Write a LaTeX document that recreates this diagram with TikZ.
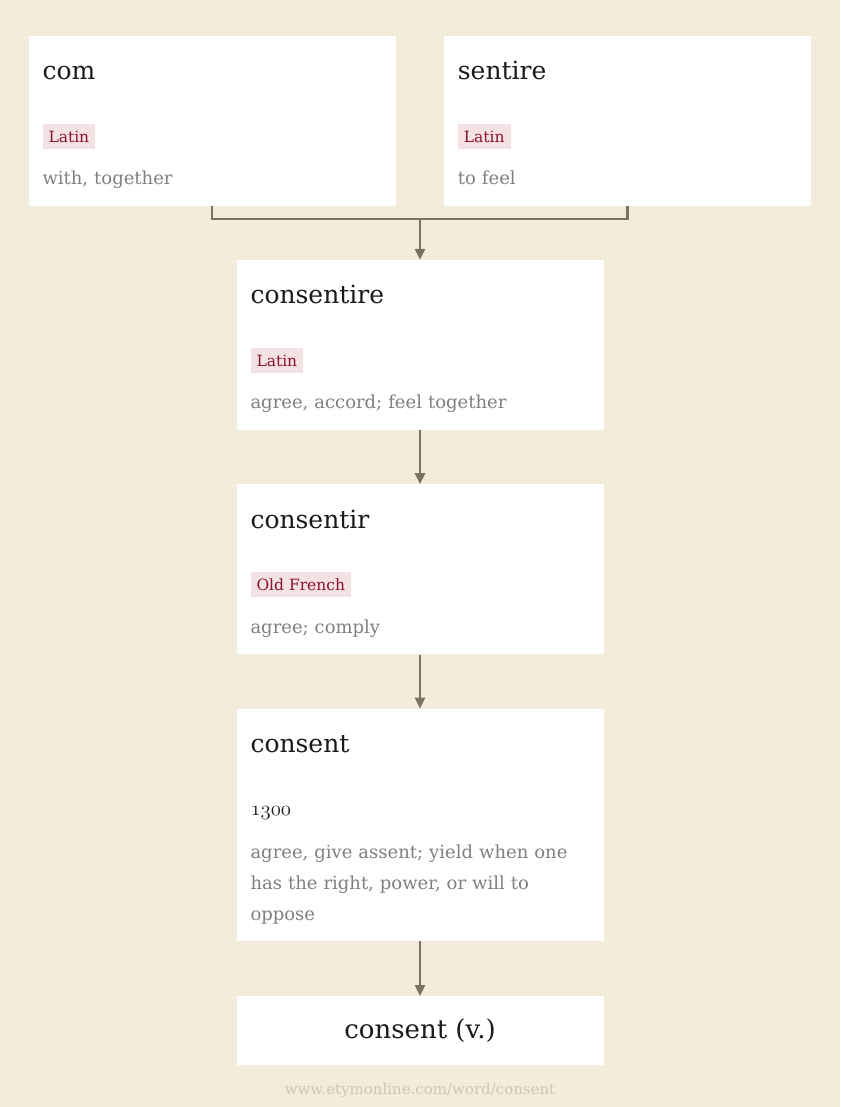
\documentclass[tikz,border=0pt]{standalone}
\usepackage{fontspec}
\setmainfont{DejaVu Serif}
\usepackage{xcolor}
\usetikzlibrary{positioning, arrows.meta}

\definecolor{paper}{HTML}{F3ECDA}
\definecolor{ink}{HTML}{1A1A1A}
\definecolor{glossgray}{HTML}{808080}
\definecolor{tagbg}{HTML}{F3E1E4}
\definecolor{tagred}{HTML}{8A1236}
\definecolor{linkgray}{HTML}{7A7363}
\definecolor{footgray}{HTML}{CFC7B6}

\newcommand{\osnum}[1]{{\usefont{OML}{cmm}{m}{it}#1}}

\begin{document}
\begin{tikzpicture}[x=1pt, y=-1pt, node distance=54pt and 48pt,
    card/.style={rectangle, fill=white, minimum width=367pt, minimum height=170pt, inner sep=0pt},
    word/.style={anchor=base west, inner sep=0pt, text=ink, font=\fontsize{25}{29}\selectfont},
    lang/.style={anchor=north west, fill=tagbg, text=tagred, inner xsep=6pt, inner ysep=0pt, minimum height=25pt, font=\fontsize{15.5}{18}\selectfont},
    gloss/.style={anchor=base west, inner sep=0pt, text=glossgray, text width=340pt, align=left, font=\fontsize{18}{31}\selectfont},
    link/.style={draw=linkgray, line width=2.6pt},
    >={Triangle[width=10pt,length=11pt]}]
    \useasboundingbox (0,0) rectangle (840,1107);
    \fill[paper] (0,0) rectangle (840,1107);

    % the cards
    \node[card] (com) at (212,121) {};
    \node[card, right=of com] (sentire) {};
    \node[card] (consentire) at (420,345) {};
    \node[card, below=of consentire] (consentir) {};
    \node[card, minimum height=232pt, below=of consentir] (consent) {};
    \node[card, minimum height=69pt, below=55pt of consent, font=\fontsize{26}{30}\selectfont, text=ink] (final) {consent (v.)};

    % texts inside the cards
    \node[word] (com-w) at ([shift={(14,44)}]com.north west) {com};
    \node[lang] (com-l) at ([shift={(14,88)}]com.north west) {Latin};
    \node[gloss] (com-g) at ([shift={(14,149)}]com.north west) {with, together};

    \node[word] (sentire-w) at ([shift={(14,44)}]sentire.north west) {sentire};
    \node[lang] (sentire-l) at ([shift={(14,88)}]sentire.north west) {Latin};
    \node[gloss] (sentire-g) at ([shift={(14,149)}]sentire.north west) {to feel};

    \node[word] (consentire-w) at ([shift={(14,44)}]consentire.north west) {consentire};
    \node[lang] (consentire-l) at ([shift={(14,88)}]consentire.north west) {Latin};
    \node[gloss] (consentire-g) at ([shift={(14,149)}]consentire.north west) {agree, accord; feel together};

    \node[word] (consentir-w) at ([shift={(14,44)}]consentir.north west) {consentir};
    \node[lang] (consentir-l) at ([shift={(14,88)}]consentir.north west) {Old French};
    \node[gloss] (consentir-g) at ([shift={(14,149)}]consentir.north west) {agree; comply};

    \node[word] (consent-w) at ([shift={(14,44)}]consent.north west) {consent};
    \node[word, font=\fontsize{22}{25}\selectfont] (consent-d) at ([shift={(14,107)}]consent.north west) {\osnum{1300}};
    \node[gloss] (consent-g) at ([shift={(14,150)}]consent.north west) {agree, give assent; yield when one\\has the right, power, or will to\\oppose};

    \node[text=footgray, font=\fontsize{15}{18}\selectfont] (url) at (420,1090) {www.etymonline.com/word/consent};

    % connectors
    \coordinate (join) at ([yshift=-13pt]consentire.north |- com.south);
    \draw[link] (com.south) |- (join) -| (sentire.south);
    \draw[link, ->] (join) -- (consentire);
    \draw[link, ->] (consentire) -- (consentir);
    \draw[link, ->] (consentir) -- (consent);
    \draw[link, ->] (consent) -- (final);
\end{tikzpicture}
\end{document}
